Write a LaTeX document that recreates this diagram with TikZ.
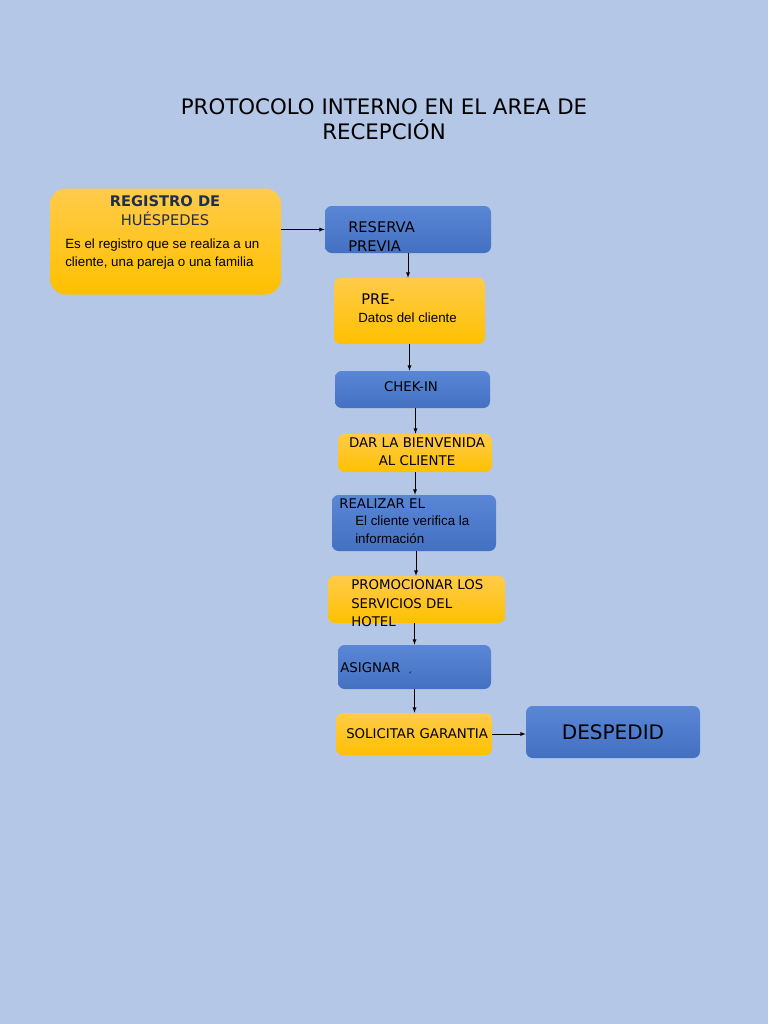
\documentclass[tikz,border=0pt]{standalone}
\usepackage{fontspec}
\setmainfont{DejaVu Sans}
\newfontfamily\arialf{Liberation Sans}
\definecolor{bg}{HTML}{B4C7E7}
\definecolor{bluet}{HTML}{5A86D6}
\definecolor{blueb}{HTML}{4470C2}
\definecolor{orat}{HTML}{FFCB4A}
\definecolor{orab}{HTML}{FFC000}
\definecolor{dk}{HTML}{1F2F4F}
\begin{document}
\begin{tikzpicture}[x=0.75pt,y=-0.75pt,
  bbox/.style={rounded corners=5pt,top color=bluet,bottom color=blueb,draw=none,inner sep=0pt},
  obox/.style={rounded corners=5pt,top color=orat,bottom color=orab,draw=none,inner sep=0pt},
  txt/.style={inner sep=0pt,anchor=west,font=\fontsize{10.5}{12}\selectfont},
  stxt/.style={inner sep=0pt,anchor=west,font=\arialf\fontsize{10}{12}\selectfont},
  arr/.style={-latex,thin,black}]
\fill[bg] (0,0) rectangle (768,1024);
\node[font=\fontsize{16}{19}\selectfont,align=center] (title) at (384,119) {PROTOCOLO INTERNO EN EL AREA DE\\RECEPCIÓN};
\node[obox,rounded corners=12pt,minimum width=231*0.75pt,minimum height=106*0.75pt] (reg) at (165.5,241.5) {};
\node[inner sep=0pt,font=\bfseries\fontsize{11}{13}\selectfont,text=dk] (reg1) at (165,201) {REGISTRO DE};
\node[inner sep=0pt,font=\fontsize{11}{13}\selectfont,text=dk] (reg2) at (165,219) {HUÉSPEDES};
\node[stxt] (reg3) at (65,245) {Es el registro que se realiza a un};
\node[stxt] (reg4) at (65,263) {cliente, una pareja o una familia};
\node[bbox,minimum width=166*0.75pt,minimum height=47*0.75pt] (res) at (408,229.5) {};
\node[txt,font=\fontsize{11}{13}\selectfont] (res1) at (348,227) {RESERVA};
\node[txt,font=\fontsize{11}{13}\selectfont] (res2) at (348,246) {PREVIA};
\node[obox,minimum width=151*0.75pt,minimum height=66*0.75pt] (pre) at (409.5,311) {};
\node[txt,font=\fontsize{11}{13}\selectfont] (pre1) at (361,299) {PRE-};
\node[stxt] (pre2) at (358,318) {Datos del cliente};
\node[bbox,minimum width=155*0.75pt,minimum height=37*0.75pt] (chk) at (412.5,389.5) {};
\node[inner sep=0pt,font=\fontsize{10}{12}\selectfont] (chk1) at (411,387) {CHEK-IN};
\node[obox,minimum width=154*0.75pt,minimum height=38*0.75pt] (dar) at (415,453) {};
\node[inner sep=0pt,font=\fontsize{10}{12}\selectfont] (dar1) at (417,443) {DAR LA BIENVENIDA};
\node[inner sep=0pt,font=\fontsize{10}{12}\selectfont] (dar2) at (417,461) {AL CLIENTE};
\node[bbox,minimum width=164*0.75pt,minimum height=56*0.75pt] (real) at (414,523) {};
\node[txt,font=\fontsize{10}{12}\selectfont] (real1) at (339,504) {REALIZAR EL};
\node[stxt] (real2) at (355,521) {El cliente verifica la};
\node[stxt] (real3) at (355,539) {información};
\node[obox,minimum width=177*0.75pt,minimum height=47*0.75pt] (prom) at (416.5,599.5) {};
\node[txt,font=\fontsize{10}{12}\selectfont] (prom1) at (351,585) {PROMOCIONAR LOS};
\node[txt,font=\fontsize{10}{12}\selectfont] (prom2) at (351,604) {SERVICIOS DEL};
\node[txt,font=\fontsize{10}{12}\selectfont] (prom3) at (351,622) {HOTEL};
\node[bbox,minimum width=153*0.75pt,minimum height=44*0.75pt] (asig) at (414.5,667) {};
\node[txt,font=\fontsize{10}{12}\selectfont] (asig1) at (340,668) {ASIGNAR};
\node[inner sep=0pt,font=\fontsize{7}{8}\selectfont] (asig2) at (410,676) {´};
\node[obox,minimum width=156*0.75pt,minimum height=42*0.75pt] (sol) at (414,734) {};
\node[txt,font=\fontsize{10}{12}\selectfont] (sol1) at (346,734) {SOLICITAR GARANTIA};
\node[bbox,minimum width=174*0.75pt,minimum height=52*0.75pt] (desp) at (613,732) {};
\node[inner sep=0pt,font=\fontsize{15}{18}\selectfont] (desp1) at (613,732) {DESPEDID};
\draw[arr] (reg.east |- res.west) -- (res.west);
\draw[arr] (res.south) -- (res.south |- pre.north);
\draw[arr] (pre.south) -- (pre.south |- chk.north);
\draw[arr] ([xshift=2.25pt]chk.south) -- ([xshift=2.25pt]chk.south |- dar.north);
\draw[arr] (dar.south) -- (dar.south |- real.north);
\draw[arr] ([xshift=1.5pt]real.south) -- ([xshift=1.5pt]real.south |- prom.north);
\draw[arr] (prom.south -| asig.south) -- (asig.north);
\draw[arr] (asig.south) -- (asig.south |- sol.north);
\draw[arr] (sol.east) -- (sol.east -| desp.west);
\end{tikzpicture}
\end{document}
